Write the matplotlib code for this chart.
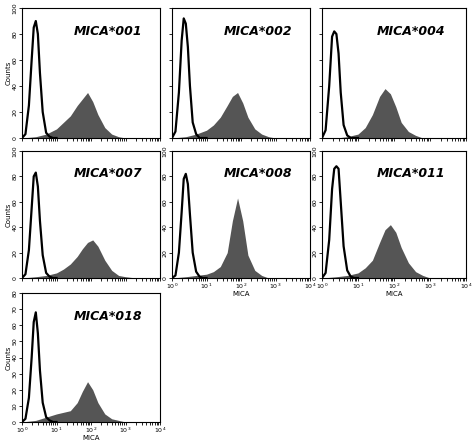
import matplotlib
matplotlib.use("Agg")
import matplotlib.pyplot as plt
import numpy as np

labels = ["MICA*001", "MICA*002", "MICA*004", "MICA*007", "MICA*008", "MICA*011", "MICA*018"]
ymax = [100, 100, 100, 100, 100, 100, 80]

iso_x = [0.0, 0.1, 0.2, 0.28, 0.34, 0.4, 0.46, 0.52, 0.6, 0.7, 0.8, 0.9, 1.0]
iso_y = [
    [0, 3, 25, 60, 85, 90, 80, 50, 20, 4, 1, 0, 0],
    [0, 5, 35, 75, 92, 88, 70, 40, 12, 3, 0, 0, 0],
    [0, 6, 40, 78, 82, 80, 65, 35, 10, 2, 0, 0, 0],
    [0, 3, 22, 55, 80, 83, 72, 45, 18, 4, 1, 0, 0],
    [0, 2, 20, 52, 78, 82, 74, 50, 20, 5, 1, 0, 0],
    [0, 4, 30, 70, 86, 88, 86, 60, 25, 6, 1, 0, 0],
    [0, 2, 15, 40, 62, 68, 55, 32, 12, 3, 1, 0, 0],
]
mica_x = [0.0, 0.4, 0.7, 1.0, 1.2, 1.4, 1.6, 1.75, 1.9, 2.05, 2.2, 2.4, 2.6, 2.8, 3.0, 3.3, 4.0]
mica_y = [
    [0, 1, 3, 7, 12, 17, 25, 30, 35, 28, 18, 8, 3, 1, 0, 0, 0],
    [0, 1, 3, 6, 10, 16, 25, 32, 35, 27, 16, 7, 3, 1, 0, 0, 0],
    [0, 0, 1, 3, 8, 18, 32, 38, 34, 24, 12, 5, 2, 0, 0, 0, 0],
    [0, 1, 2, 4, 7, 11, 17, 23, 28, 30, 25, 14, 6, 2, 1, 0, 0],
    [0, 1, 2, 3, 5, 9, 20, 45, 63, 45, 18, 6, 2, 0, 0, 0, 0],
    [0, 1, 2, 4, 8, 14, 28, 38, 42, 36, 24, 12, 5, 2, 0, 0, 0],
    [0, 1, 3, 5, 6, 7, 12, 19, 25, 20, 12, 5, 2, 1, 0, 0, 0],
]

W, H = 474, 442
fig = plt.figure(figsize=(W/100, H/100), dpi=100)
cols = [(22, 160), (172, 310), (322, 466)]
rows = [(8, 138), (151, 278), (293, 422)]
pos = [(0, 0), (0, 1), (0, 2), (1, 0), (1, 1), (1, 2), (2, 0)]

for i, (r, c) in enumerate(pos):
    x0, x1 = cols[c]
    y0, y1 = rows[r]
    ax = fig.add_axes([x0/W, 1 - y1/H, (x1-x0)/W, (y1-y0)/H])
    mx = 10 ** np.array(mica_x)
    ix = 10 ** np.array(iso_x)
    ax.fill_between(mx, mica_y[i], color="#555555", lw=0)
    ax.plot(ix, iso_y[i], color="black", lw=1.6)
    ax.set_xscale("log")
    ax.set_xlim(1, 1e4)
    ax.set_ylim(0, ymax[i])
    ax.set_yticks(np.arange(0, ymax[i] + 1, 10 if ymax[i] == 80 else 20))
    ax.tick_params(labelsize=4.5, length=2, width=0.6, pad=1)
    for t in ax.get_yticklabels():
        t.set_rotation(90)
        t.set_va("center")
    if c == 0:
        ax.set_ylabel("Counts", fontsize=5, labelpad=1)
    if i in (1, 2):
        ax.set_yticklabels([])
    if i in (4, 5, 6):
        ax.set_xticks([1, 10, 100, 1000, 10000])
        ax.set_xlabel("MICA", fontsize=5, labelpad=0)
    else:
        ax.set_xticklabels([])
        ax.tick_params(axis="x", which="both", labelbottom=False)
    ax.text(0.62, 0.82, labels[i], transform=ax.transAxes, ha="center", va="center",
            fontsize=9, fontweight="bold", fontstyle="italic")
    for s in ax.spines.values():
        s.set_linewidth(0.8)

fig.savefig("out.png", dpi=100)
